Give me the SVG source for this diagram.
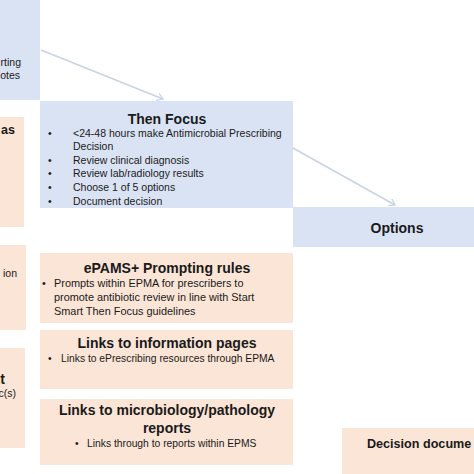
<svg xmlns="http://www.w3.org/2000/svg" width="474" height="474" viewBox="0 0 474 474">
<defs>
<style>
.blue{fill:#dae3f3}
.peach{fill:#fbe5d6}
text{font-family:"Liberation Sans",Arial,sans-serif;fill:#1a1a1a}
.t{font-weight:bold;font-size:14px;text-anchor:middle}
.b{font-size:10.3px}
.bl{font-size:10.5px}
.conn{stroke:#c8d3e4;stroke-width:1.5;fill:none;marker-end:url(#ah)}
</style>
<marker id="ah" markerWidth="8" markerHeight="8" refX="6" refY="4" orient="auto" markerUnits="userSpaceOnUse">
<path d="M0,0 L6,4 L0,8" fill="none" stroke="#c8d3e4" stroke-width="1.2"/>
</marker>
</defs>
<rect width="474" height="474" fill="#ffffff"/>
<g id="start-smart">
<rect class="blue" x="-2" y="-2" width="42" height="102"/>
<text class="bl" x="21" y="66" text-anchor="end">rting</text>
<text class="bl" x="20" y="79" text-anchor="end">otes</text>
</g>
<g id="left-1">
<rect class="peach" x="-2" y="117" width="26" height="110"/>
<text x="1" y="134" font-weight="bold" font-size="12.5">as</text>
</g>
<g id="left-2">
<rect class="peach" x="-2" y="245" width="28" height="85"/>
<text class="bl" x="17" y="277" text-anchor="end">ion</text>
</g>
<g id="left-3">
<rect class="peach" x="-2" y="348" width="27" height="100"/>
<text x="5" y="384" text-anchor="end" font-weight="bold" font-size="14">t</text>
<text class="bl" x="16" y="397" text-anchor="end">c(s)</text>
</g>
<g id="then-focus">
<rect class="blue" x="40" y="101" width="253" height="107"/>
<text class="t" x="167" y="124" font-size="15">Then Focus</text>
<g class="bl">
<text x="48" y="137">•</text><text x="73" y="137">&lt;24-48 hours make Antimicrobial Prescribing</text>
<text x="73" y="150">Decision</text>
<text x="48" y="164">•</text><text x="73" y="164">Review clinical diagnosis</text>
<text x="48" y="177">•</text><text x="73" y="177">Review lab/radiology results</text>
<text x="48" y="191">•</text><text x="73" y="191">Choose 1 of 5 options</text>
<text x="48" y="205">•</text><text x="73" y="205">Document decision</text>
</g>
</g>
<g id="options">
<rect class="blue" x="293" y="207" width="183" height="40"/>
<text class="t" x="397" y="233">Options</text>
</g>
<g id="epams">
<rect class="peach" x="40" y="253" width="253" height="70"/>
<text class="t" x="167" y="273" font-size="13.5">ePAMS+ Prompting rules</text>
<g font-size="10.9">
<text x="42" y="287">•</text><text x="54" y="287">Prompts within EPMA for prescribers to</text>
<text x="54" y="301">promote antibiotic review in line with Start</text>
<text x="54" y="315">Smart Then Focus guidelines</text>
</g>
</g>
<g id="info-pages">
<rect class="peach" x="40" y="330" width="253" height="59"/>
<text class="t" x="167" y="348" font-size="13.5">Links to information pages</text>
<text class="b" x="48" y="362">•</text><text class="b" x="61" y="362">Links to ePrescribing resources through EPMA</text>
</g>
<g id="micro-links">
<rect class="peach" x="40" y="399" width="253" height="66"/>
<text class="t" x="167" y="415" font-size="13.5">Links to microbiology/pathology</text>
<text class="t" x="167" y="433" font-size="13.5">reports</text>
<text class="b" x="75" y="447">•</text><text class="b" x="87" y="447" font-size="10.5">Links through to reports within EPMS</text>
</g>
<g id="decision-doc">
<rect class="peach" x="342" y="428" width="134" height="46"/>
<text x="367" y="448" font-weight="bold" font-size="12.6">Decision docume</text>
</g>
<g id="connectors">
<line class="conn" x1="41" y1="50" x2="163" y2="99"/>
<line class="conn" x1="293" y1="148" x2="395" y2="205"/>
</g>
</svg>
